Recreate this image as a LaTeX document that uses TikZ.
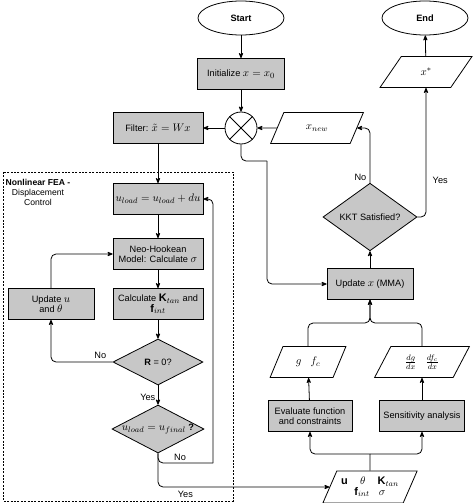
\documentclass[tikz,border=0pt]{standalone}
\usepackage{amsmath,amssymb}
\usepackage{fontspec}
\setmainfont{Liberation Sans}
\usetikzlibrary{arrows,shapes.geometric}
\DeclareMathSizes{9.2}{10.95}{8}{6}

\tikzset{
  proc/.style={draw, fill=black!22, minimum width=90pt, minimum height=31pt, align=center, inner sep=1pt},
  iobox/.style={draw, trapezium, trapezium left angle=60, trapezium right angle=120, trapezium stretches=true, minimum width=92pt, minimum height=31pt, align=center, inner sep=1pt},
  test/.style={draw, diamond, fill=black!22, align=center, inner sep=0pt},
  term/.style={draw, ellipse, minimum width=86pt, minimum height=34pt, font=\bfseries\fontsize{9.2}{11}\selectfont},
  link/.style={->, rounded corners=5pt}
}

\begin{document}
\begin{tikzpicture}[x=1pt, y=-1pt, line width=0.8pt, >=stealth', font=\fontsize{9.2}{10.5}\selectfont]
        \useasboundingbox (0,0) rectangle (474,503);

        \draw[dash pattern=on 2pt off 1.4pt, line width=0.7pt] (3,172) rectangle (233,501);
        \node[align=center, font=\fontsize{8.6}{11}\selectfont] (fea) at (38,192) {\textbf{Nonlinear FEA -}\\[-1pt]Displacement\\[-1pt]Control};

        \node[term] (start) at (241,18) {Start};
        \node[proc, minimum width=87pt] (init) at (241,74) {Initialize $x = x_0$};
        \node[draw, circle, minimum size=32pt, inner sep=0pt] (sum) at (241,128) {};
        \draw (sum.north west) -- (sum.south east);
        \draw (sum.north east) -- (sum.south west);
        \node[proc] (filter) at (158,128) {Filter: $\tilde{x} = Wx$};
        \node[iobox, minimum width=93pt] (xnew) at (317,128) {$x_{new}$};
        \node[term] (end) at (425,18) {End};
        \node[iobox] (xstar) at (426,72) {$x^*$};

        \node[proc] (uload) at (158,199) {$u_{load} = u_{load} + du$};
        \node[proc] (neo) at (158,254) {Neo-Hookean\\Model: Calculate $\sigma$};
        \node[proc] (calck) at (158,304) {Calculate $\mathbf{K}_{tan}$ and\\$\mathbf{f}_{int}$};
        \node[proc, minimum width=86pt] (updu) at (51,304) {Update $u$\\and $\theta$};
        \node[test, minimum width=90pt, minimum height=46pt] (rzero) at (158,362) {\textbf{R} = 0?};
        \node[test, minimum width=92pt, minimum height=48pt] (ufin) at (158,429) {\makebox[0pt]{$u_{load} = u_{final}$ \textbf{?}}};

        \node[test, minimum width=94pt, minimum height=62pt] (kkt) at (370,217) {KKT Satisfied?};
        \node[proc, minimum width=86pt] (updx) at (370,284) {Update $x$ (MMA)};
        \node[iobox, minimum width=76pt] (gfc) at (308,362) {$g \quad f_c$};
        \node[iobox, minimum width=95pt] (sens) at (422,362) {$\frac{dg}{dx} \quad \frac{df_c}{dx}$};
        \node[proc, minimum width=84pt] (evalf) at (310,416) {Evaluate function\\and constraints};
        \node[proc, minimum width=85pt] (sensb) at (422,416) {Sensitivity analysis};
        \node[iobox, minimum width=95pt, minimum height=32pt] (state) at (370,487) {$\mathbf{u} \quad\; \theta \quad\; \mathbf{K}_{tan}$\\$\mathbf{f}_{int} \quad \sigma$};

        \coordinate (bend) at (267,161);
        \coordinate (noback) at (213,463);
        \coordinate (split) at (370,454);
        \coordinate (join) at (370,323);

        \draw[->] (start) to (init);
        \draw[->] (init) to (sum);
        \draw[->] (sum) to (filter);
        \draw[->] (xnew) to (sum);
        \draw[->] (filter) to (uload);
        \draw[->] (uload) to (neo);
        \draw[->] (neo) to (calck);
        \draw[->] (calck) to (rzero);
        \draw[->] (rzero) to node[pos=0.6, left=-1pt]{Yes} (ufin);
        \draw[link] (rzero.west) -| node[pos=0.1, above]{No} (updu.south);
        \draw[link] (updu.north) |- (neo.west);
        \draw[rounded corners=5pt] (ufin.south) |- node[pos=0.7, above=-1pt]{No} (noback);
        \draw[link] (noback) |- (uload.east);
        \draw[link] (ufin.south) |- node[pos=0.58, below]{Yes} (state.west);

        \draw[rounded corners=5pt] (state.north) -- (split);
        \draw[link] (split) -| (evalf.south);
        \draw[link] (split) -| (sensb.south);
        \draw[->] (evalf) to (gfc);
        \draw[->] (sensb) to (sens);
        \draw[link] (gfc.north) |- (join) -| (updx.south);
        \draw[link] (sens.north) |- (join) -| (updx.south);

        \draw[rounded corners=5pt] (sum.south) |- (bend);
        \draw[link] (bend) |- (updx.west);
        \draw[->] (updx) to (kkt);
        \draw[link] (kkt.north) |- node[pos=0.05, left]{No} (xnew.east);
        \draw[link] (kkt.east) -| node[pos=0.64, right=3pt]{Yes} (xstar.south);
        \draw[->] (xstar) to (end);
\end{tikzpicture}
\end{document}
